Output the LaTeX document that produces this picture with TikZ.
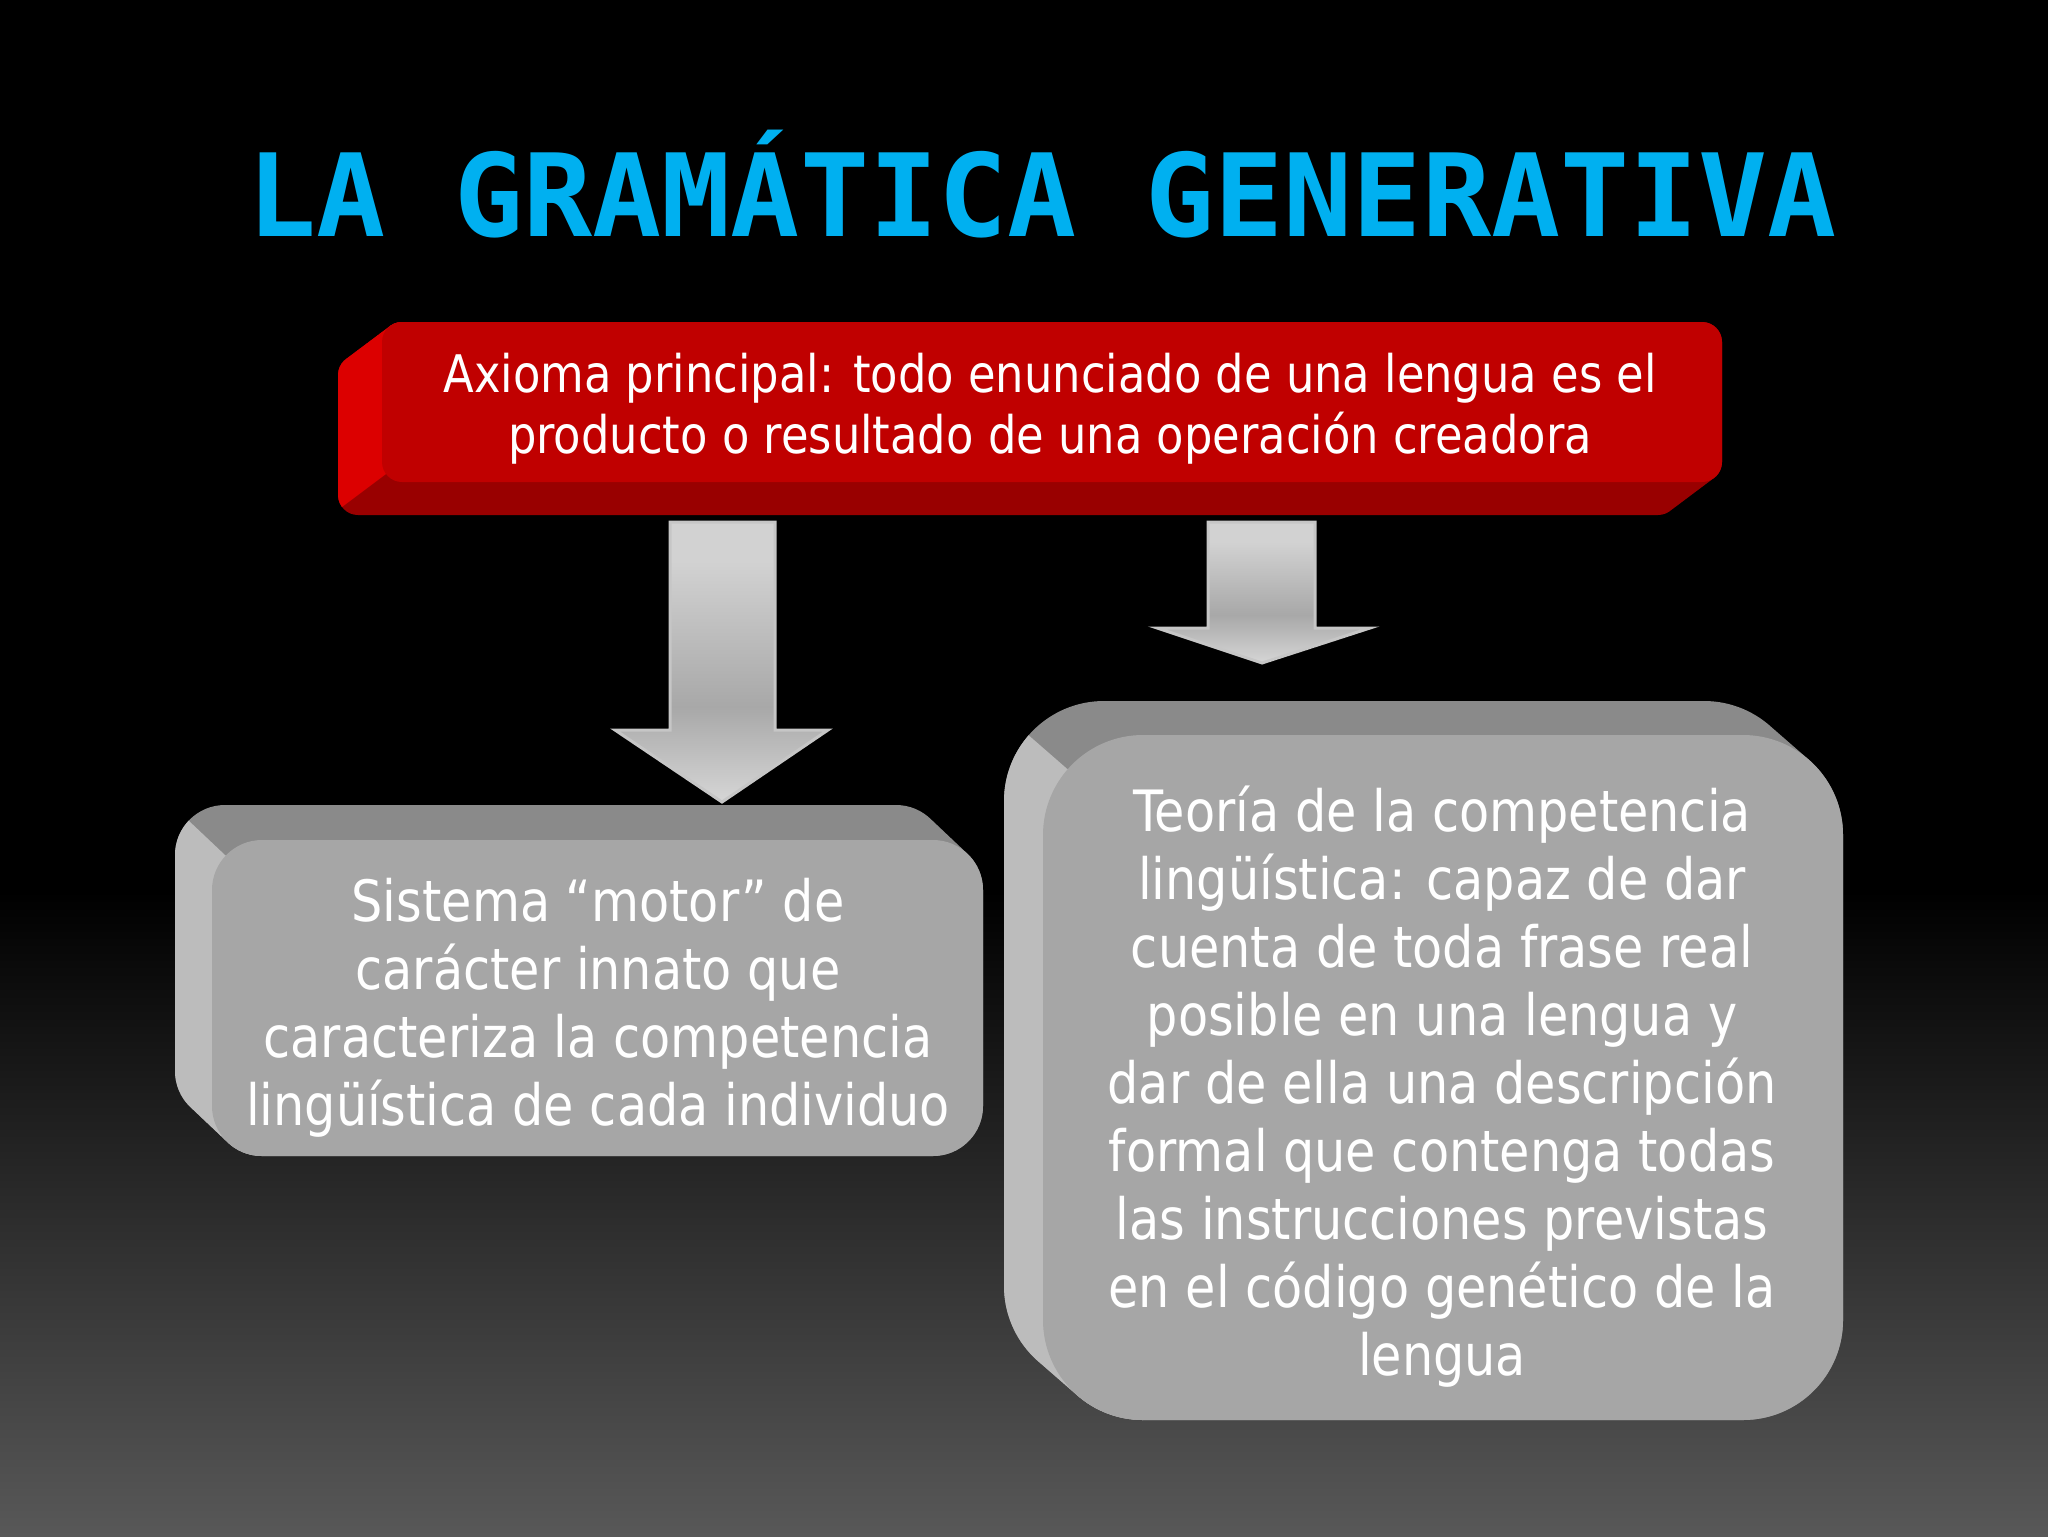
\documentclass[tikz,border=0pt]{standalone}
\usepackage{fontspec}
\newfontfamily\tah{DejaVu Sans}[FakeStretch=0.865]
\newfontfamily\titlefont{DejaVu Sans Mono}
\definecolor{ttl}{HTML}{00B0F0}
\definecolor{rface}{HTML}{C00000}
\definecolor{rleft}{HTML}{DC0000}
\definecolor{rbot}{HTML}{990000}
\definecolor{gface}{HTML}{A6A6A6}
\definecolor{gtop}{HTML}{8A8A8A}
\definecolor{gleft}{HTML}{BCBCBC}
\definecolor{bgbot}{HTML}{585858}
\definecolor{arA}{HTML}{D2D2D2}
\definecolor{arB}{HTML}{A8A8A8}
\definecolor{arC}{HTML}{D6D6D6}
\pgfdeclareverticalshading{bgshade}{100bp}{color(0bp)=(bgbot); color(25bp)=(bgbot); color(46bp)=(black); color(100bp)=(black)}
\pgfdeclareverticalshading{arrowshade}{100bp}{color(0bp)=(arC); color(25bp)=(arC); color(42bp)=(arB); color(68bp)=(arA); color(100bp)=(arA)}
\tikzset{
  redtext/.style={text=white, align=center, inner sep=0pt, font=\tah\fontsize{25.9}{30.5}\selectfont},
  graytext/.style={text=white, align=center, inner sep=0pt, font=\tah\fontsize{28.5}{34}\selectfont},
  titletext/.style={text=ttl, inner sep=0pt, font=\titlefont\bfseries\fontsize{57.4}{60}\selectfont},
  blockarrow/.style={shading=arrowshade, draw=gray!45, line width=1.5pt}
}
\begin{document}
\begin{tikzpicture}[x=0.5pt,y=-0.5pt]
\useasboundingbox (0,0) rectangle (2048,1536);
\fill[shading=bgshade] (0,0) rectangle (2048,1536);

% title
\node[titletext, anchor=base] (title) at (1042,236) {LA GRAMÁTICA GENERATIVA};

% red box
\begin{scope}
  \clip[rounded corners=10pt] \foreach \i in {0,...,24} {({382-44*\i/24},{322+33*\i/24}) rectangle ({1722-44*\i/24},{482+33*\i/24})};
  \fill[rbot] (300,280) rectangle (1760,560);
  \fill[rleft] (402,250) -- (402,462) -- (270,561) -- (250,561) -- (250,250) -- cycle;
\end{scope}
\fill[rface, rounded corners=10pt] (382,322) rectangle (1722,482);
\node[redtext] (axioma) at (1050,409) {Axioma principal: todo enunciado de una lengua es el\\producto o resultado de una operación creadora};

% arrows
\coordinate (a1) at (722,522);
\coordinate (a2) at (1262,522);
\filldraw[blockarrow] (670,522) -- (775,522) -- (775,730) -- (828,730) -- (722,802) -- (615,730) -- (670,730) -- cycle;
\filldraw[blockarrow] (1208,522) -- (1315,522) -- (1315,628) -- (1370,628) -- (1262,663) -- (1157,628) -- (1208,628) -- cycle;

% left gray box
\begin{scope}
  \clip[rounded corners=25pt] \foreach \i in {0,...,24} {({212-37*\i/24},{840-35*\i/24}) rectangle ({983-37*\i/24},{1156-35*\i/24})};
  \fill[gtop] (100,760) rectangle (1000,1200);
  \fill[gleft] (262,890) -- (151,785) -- (100,785) -- (100,1250) -- (262,1250) -- cycle;
\end{scope}
\fill[gface, rounded corners=25pt] (212,840) rectangle (983,1156);
\node[graytext] (sistema) at (598,1008) {Sistema “motor” de\\carácter innato que\\caracteriza la competencia\\lingüística de cada individuo};

% right gray box
\begin{scope}
  \clip[rounded corners=50pt] \foreach \i in {0,...,24} {({1043-39*\i/24},{735-34*\i/24}) rectangle ({1843-39*\i/24},{1420-34*\i/24})};
  \fill[gtop] (950,650) rectangle (1900,1500);
  \fill[gleft] (1143,835) -- (1026,733) -- (950,733) -- (950,1500) -- (1143,1500) -- cycle;
\end{scope}
\fill[gface, rounded corners=50pt] (1043,735) rectangle (1843,1420);
\node[graytext] (teoria) at (1442,1087) {Teoría de la competencia\\lingüística: capaz de dar\\cuenta de toda frase real\\posible en una lengua y\\dar de ella una descripción\\formal que contenga todas\\las instrucciones previstas\\en el código genético de la\\lengua};
\end{tikzpicture}
\end{document}
